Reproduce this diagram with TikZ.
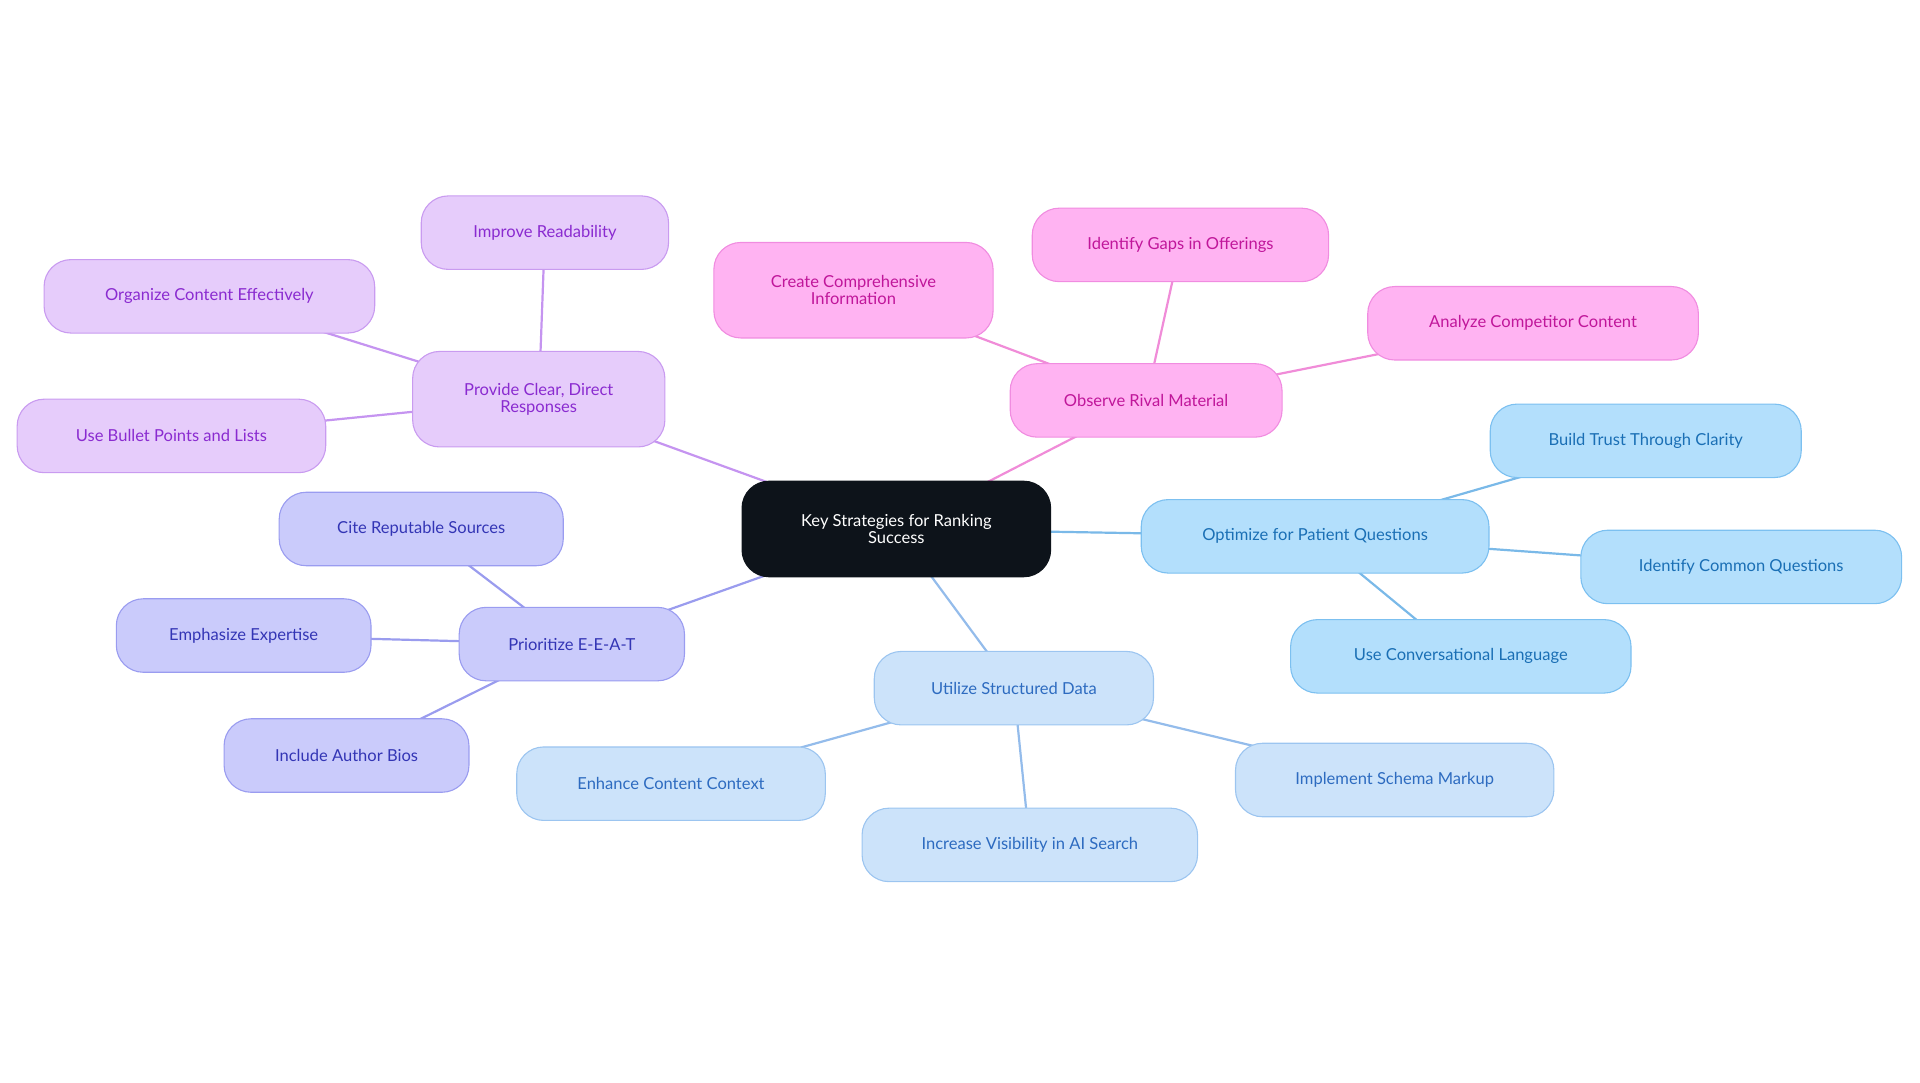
\documentclass[tikz,border=0pt]{standalone}
\usepackage{fontspec}
\setmainfont{Lato}
\usetikzlibrary{backgrounds}
\definecolor{pF}{HTML}{E6CCFB}\definecolor{pB}{HTML}{C99BF0}\definecolor{pT}{HTML}{8A2BD0}\definecolor{pL}{HTML}{C594F0}
\definecolor{kF}{HTML}{FFB3F2}\definecolor{kB}{HTML}{F08CE0}\definecolor{kT}{HTML}{C0169A}\definecolor{kL}{HTML}{F08CD8}
\definecolor{bF}{HTML}{B3DFFC}\definecolor{bB}{HTML}{7CC0F0}\definecolor{bT}{HTML}{1A6FB5}\definecolor{bL}{HTML}{7AB9E8}
\definecolor{sF}{HTML}{CCE3FA}\definecolor{sB}{HTML}{9CC5F0}\definecolor{sT}{HTML}{2D6BC0}\definecolor{sL}{HTML}{94BCEB}
\definecolor{eF}{HTML}{CACBFB}\definecolor{eB}{HTML}{9A9CF0}\definecolor{eT}{HTML}{3335B5}\definecolor{eL}{HTML}{9A9CEE}
\definecolor{cF}{HTML}{0D131A}
\begin{document}
\begin{tikzpicture}[x=1pt,y=-1pt,
 base/.style={draw,line width=0.9pt,rounded corners=22pt,align=center,font=\fontsize{13.5}{14}\selectfont,inner sep=0pt,minimum height=60pt},
 pn/.style={base,fill=pF,draw=pB,text=pT},
 kn/.style={base,fill=kF,draw=kB,text=kT},
 bn/.style={base,fill=bF,draw=bB,text=bT},
 sn/.style={base,fill=sF,draw=sB,text=sT},
 en/.style={base,fill=eF,draw=eB,text=eT},
 ed/.style={line width=1.8pt}]
\useasboundingbox (0,0) rectangle (1568,884);
\node[base,fill=cF,draw=cF,text=white,minimum width=252pt,minimum height=78pt] (c) at (732,432) {Key Strategies for Ranking\\Success};
\node[pn,minimum width=206pt,minimum height=78pt] (p) at (440,326) {Provide Clear, Direct\\Responses};
\node[pn,minimum width=202pt] (p1) at (445,190) {Improve Readability};
\node[pn,minimum width=270pt] (p2) at (171,242) {Organize Content Effectively};
\node[pn,minimum width=252pt] (p3) at (140,356) {Use Bullet Points and Lists};
\node[kn,minimum width=222pt] (k) at (936,327) {Observe Rival Material};
\node[kn,minimum width=228pt,minimum height=78pt] (k1) at (697,237) {Create Comprehensive\\Information};
\node[kn,minimum width=242pt] (k2) at (964,200) {Identify Gaps in Offerings};
\node[kn,minimum width=270pt] (k3) at (1252,264) {Analyze Competitor Content};
\node[bn,minimum width=284pt] (b) at (1074,438) {Optimize for Patient Questions};
\node[bn,minimum width=254pt] (b1) at (1344,360) {Build Trust Through Clarity};
\node[bn,minimum width=262pt] (b2) at (1422,463) {Identify Common Questions};
\node[bn,minimum width=278pt] (b3) at (1193,536) {Use Conversational Language};
\node[sn,minimum width=228pt] (s) at (828,562) {Utilize Structured Data};
\node[sn,minimum width=252pt] (s1) at (548,640) {Enhance Content Context};
\node[sn,minimum width=274pt] (s2) at (841,690) {Increase Visibility in AI Search};
\node[sn,minimum width=260pt] (s3) at (1139,637) {Implement Schema Markup};
\node[en,minimum width=184pt] (e) at (467,526) {Prioritize E-E-A-T};
\node[en,minimum width=232pt] (e1) at (344,432) {Cite Reputable Sources};
\node[en,minimum width=208pt] (e2) at (199,519) {Emphasize Expertise};
\node[en,minimum width=200pt] (e3) at (283,617) {Include Author Bios};
\begin{scope}[on background layer]
\draw[ed,pL] (c.center)--(p.center) (p.center)--(p1.center) (p.center)--(p2.center) (p.center)--(p3.center);
\draw[ed,kL] (c.center)--(k.center) (k.center)--(k1.center) (k.center)--(k2.center) (k.center)--(k3.center);
\draw[ed,bL] (c.center)--(b.center) (b.center)--(b1.center) (b.center)--(b2.center) (b.center)--(b3.center);
\draw[ed,sL] (c.center)--(s.center) (s.center)--(s1.center) (s.center)--(s2.center) (s.center)--(s3.center);
\draw[ed,eL] (c.center)--(e.center) (e.center)--(e1.center) (e.center)--(e2.center) (e.center)--(e3.center);
\end{scope}
\end{tikzpicture}
\end{document}
